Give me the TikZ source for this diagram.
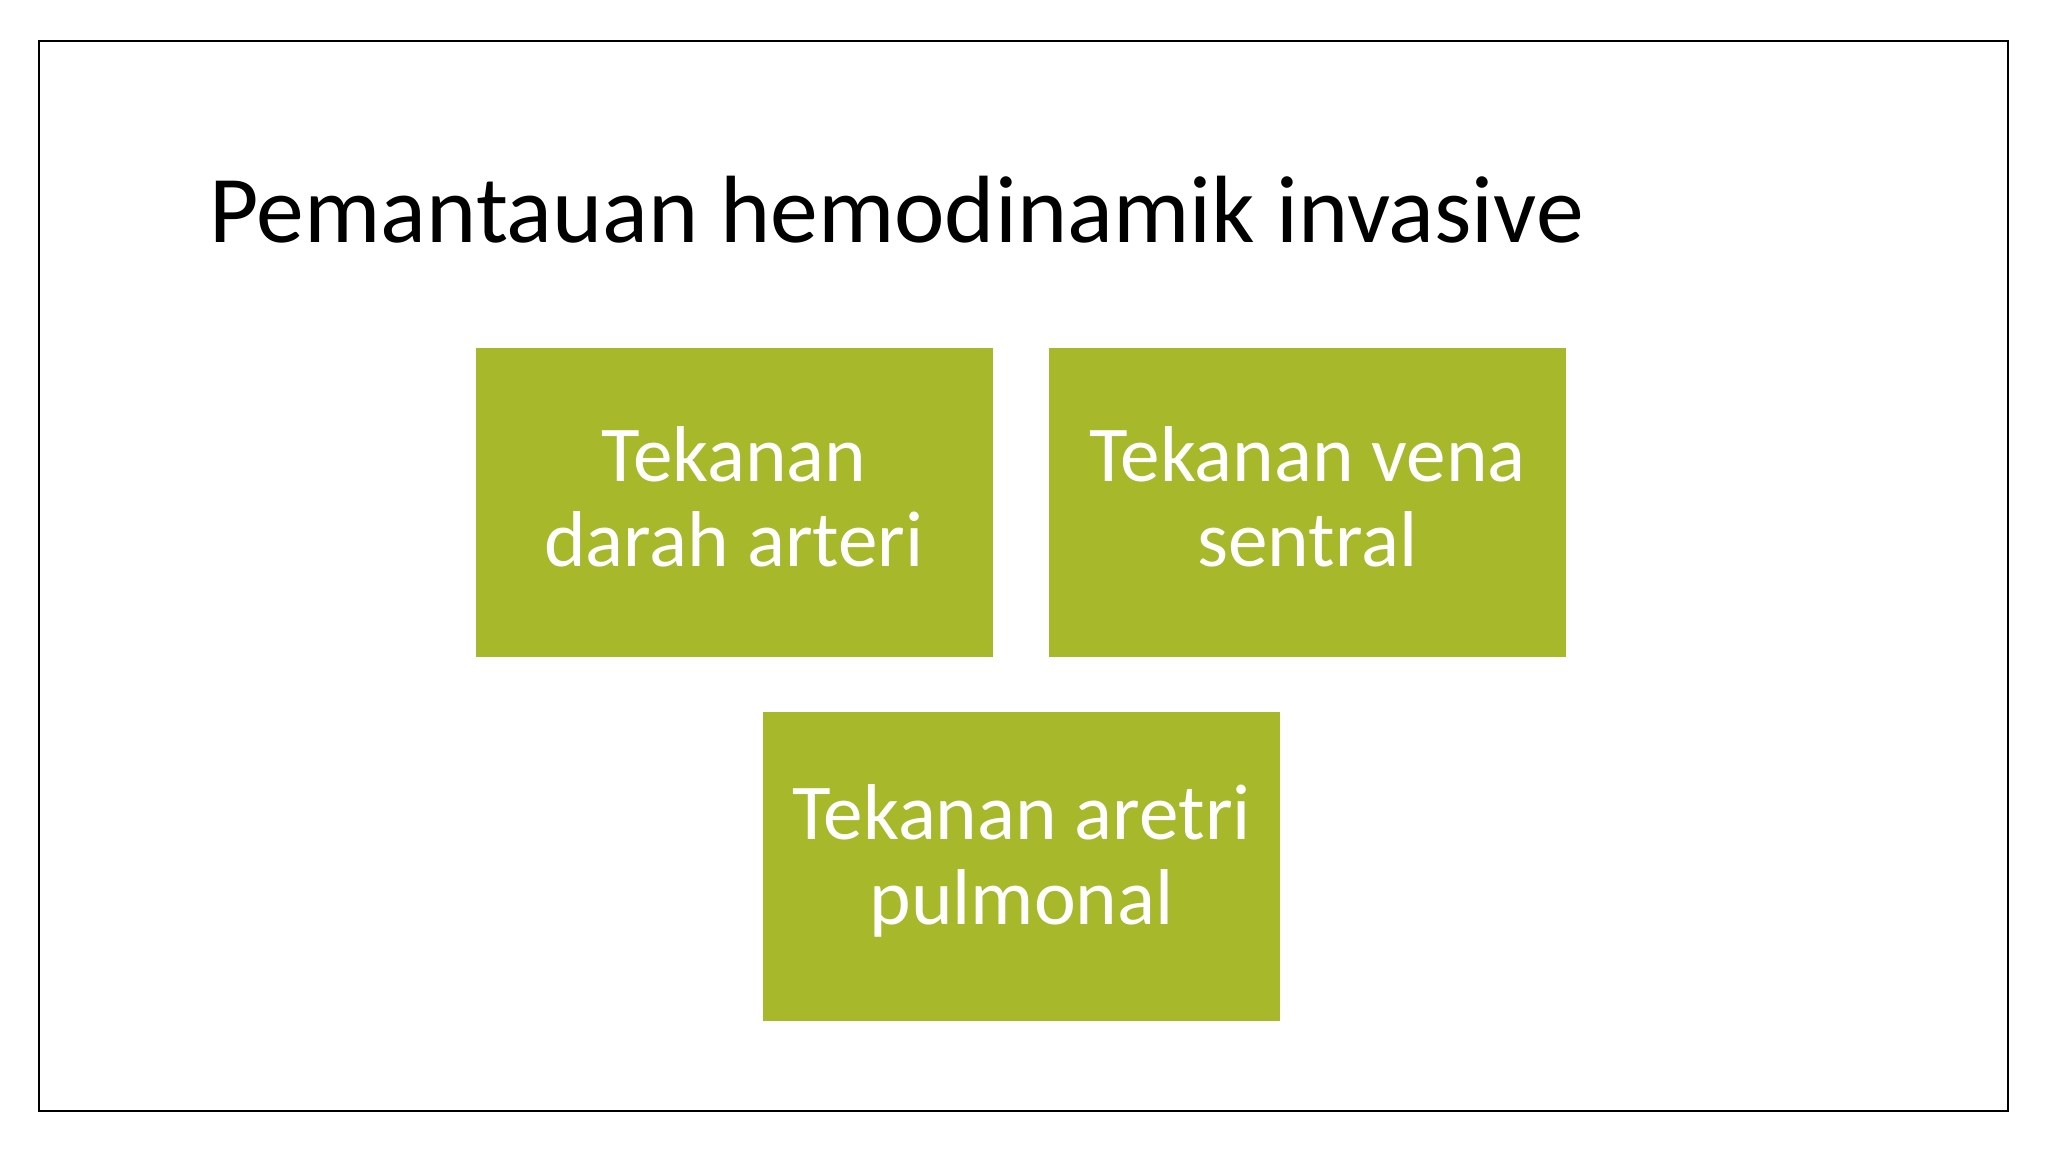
\documentclass[tikz,border=0pt]{standalone}
\usepackage{fontspec}
\setmainfont{Carlito}
\definecolor{boxgreen}{HTML}{A7B82A}
\begin{document}
\begin{tikzpicture}[x=0.5pt,y=-0.5pt,
  greenbox/.style={fill=boxgreen,draw=none,minimum width=258.5pt,minimum height=154.5pt,inner sep=0pt},
  boxtext/.style={text=white,align=center,inner sep=0pt,font=\fontsize{39.6}{42.5}\selectfont}]
\useasboundingbox (0,0) rectangle (2048,1152);
\fill[white] (0,0) rectangle (2048,1152);
\draw[line width=1pt] (39,41) rectangle (2008,1111);
\node[anchor=base west,inner sep=0pt,font=\fontsize{47.8}{50}\selectfont] (title) at (209,242) {Pemantauan hemodinamik invasive};
\node[greenbox] (b1) at (734,502) {};
\node[greenbox] (b2) at (1307.5,502) {};
\node[greenbox] (b3) at (1021.5,866) {};
\node[boxtext] (t1) at ([yshift=2.5pt]b1.center) {Tekanan\\darah arteri};
\node[boxtext] (t2) at ([yshift=2.5pt]b2.center) {Tekanan vena\\sentral};
\node[boxtext] (t3) at ([yshift=2.5pt]b3.center) {Tekanan aretri\\pulmonal};
\end{tikzpicture}
\end{document}
